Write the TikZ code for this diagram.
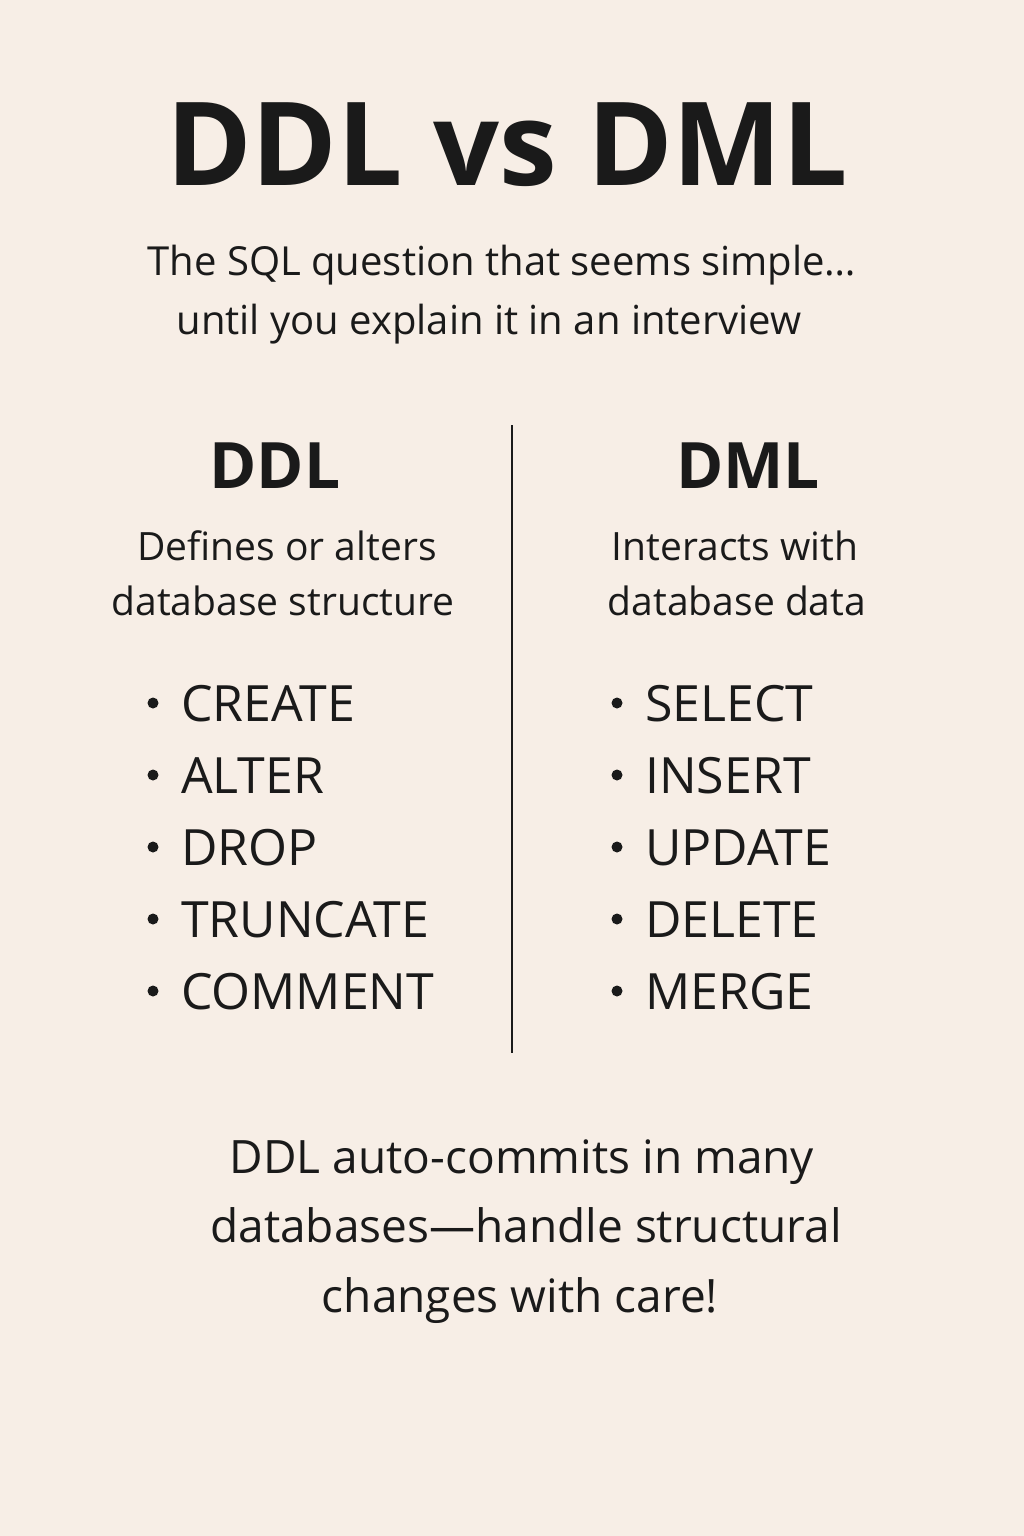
\documentclass[tikz,border=0pt]{standalone}
\usepackage{fontspec}
\setmainfont{Open Sans}
\definecolor{bg}{HTML}{F7EEE6}
\definecolor{ink}{HTML}{1A1A1A}
\begin{document}
\begin{tikzpicture}[x=1pt,y=-1pt,
  txt/.style={text=ink,inner sep=0pt,anchor=base},
  item/.style={txt,anchor=base west,font=\fontsize{50}{60}\selectfont},
  bul/.style={circle,fill=ink,inner sep=0pt,minimum size=11pt}]
\fill[bg] (0,0) rectangle (1024,1536);
\useasboundingbox (0,0) rectangle (1024,1536);
\node[txt,font=\fontsize{116}{130}\selectfont\bfseries] (title) at (507,185) {DDL vs DML};
\node[txt,font=\fontsize{40}{48}\selectfont] (s1) at (502,275) {The SQL question that seems simple\dots};
\node[txt,font=\fontsize{40}{48}\selectfont] (s2) at (489,334) {until you explain it in an interview};
\node[txt,font=\fontsize{64}{72}\selectfont\bfseries] (h1) at (275,488) {DDL};
\node[txt,font=\fontsize{64}{72}\selectfont\bfseries] (h2) at (748,488) {DML};
\node[txt,font=\fontsize{39}{48}\selectfont] (d1) at (287,560) {Defines or alters};
\node[txt,font=\fontsize{39}{48}\selectfont] (d2) at (283,615) {database structure};
\node[txt,font=\fontsize{39}{48}\selectfont] (e1) at (735,560) {Interacts with};
\node[txt,font=\fontsize{39}{48}\selectfont] (e2) at (737,615) {database data};
\coordinate (vt) at (512,425); \coordinate (vb) at (512,1053);
\draw[ink,line width=2.5pt] (vt) -- (vb);
\foreach \t [count=\i] in {CREATE,ALTER,DROP,TRUNCATE,COMMENT}{
  \node[bul] (lb\i) at (153,{721+72*(\i-1)-18}) {};
  \node[item] (l\i) at (181,{721+72*(\i-1)}) {\t};}
\foreach \t [count=\i] in {SELECT,INSERT,UPDATE,DELETE,MERGE}{
  \node[bul] (rb\i) at (617,{721+72*(\i-1)-18}) {};
  \node[item] (r\i) at (645,{721+72*(\i-1)}) {\t};}
\node[txt,font=\fontsize{46}{56}\selectfont] (f1) at (522,1173) {DDL auto-commits in many};
\node[txt,font=\fontsize{46}{56}\selectfont] (f2) at (526,1242) {databases—handle structural};
\node[txt,font=\fontsize{46}{56}\selectfont] (f3) at (520,1312) {changes with care!};
\end{tikzpicture}
\end{document}
